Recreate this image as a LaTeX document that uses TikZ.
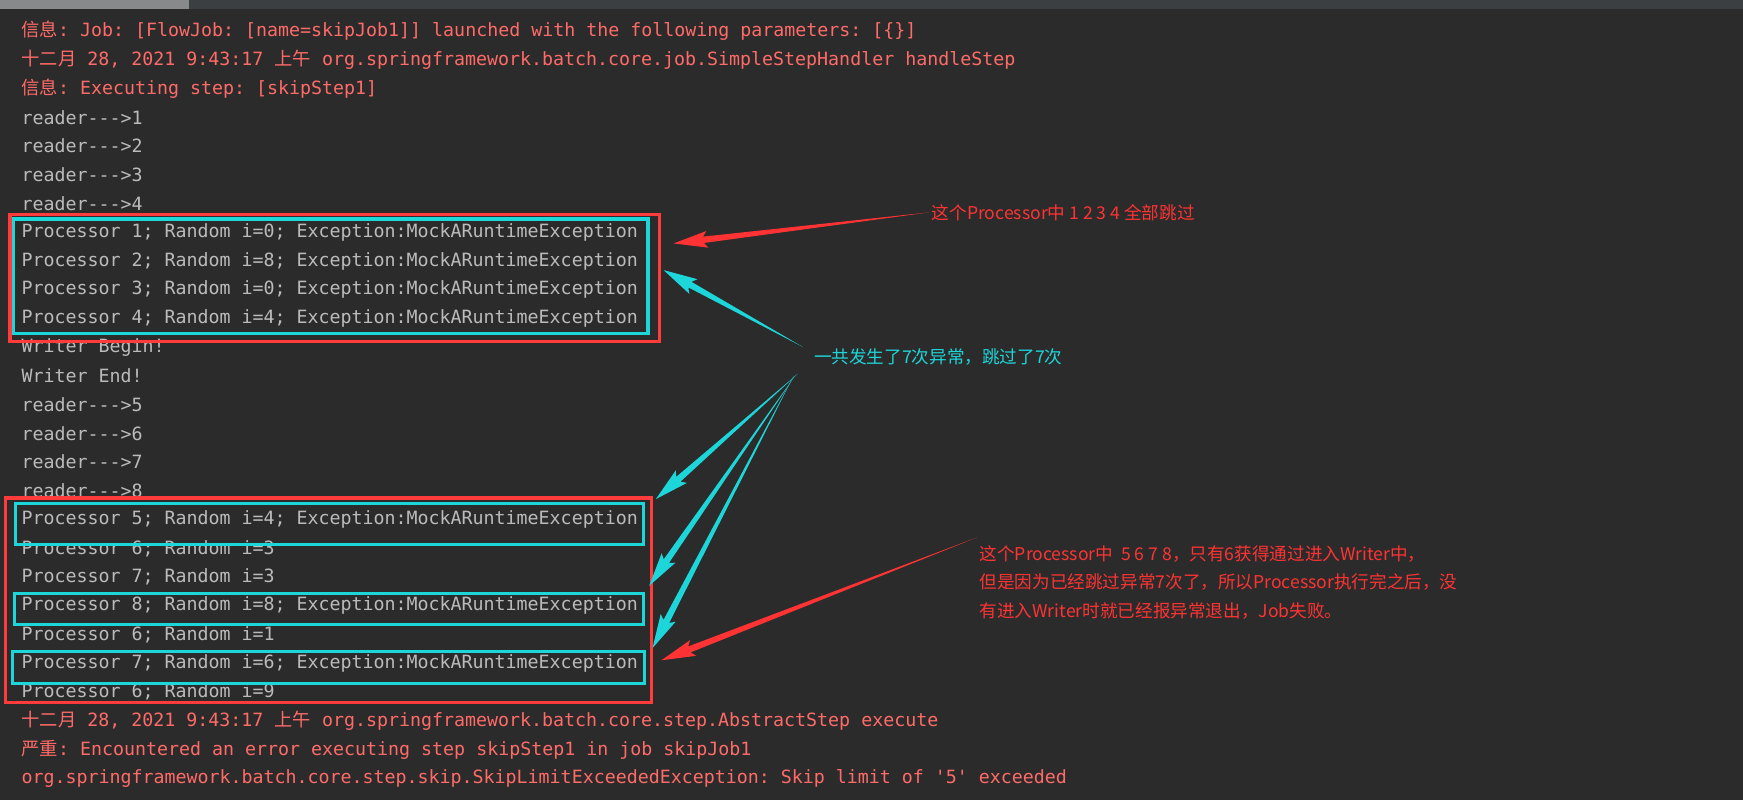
\documentclass[tikz,border=0pt]{standalone}
\usepackage{fontspec}
\setmonofont{DejaVu Sans Mono}
\newfontfamily\cjk{Noto Sans CJK SC}
\usetikzlibrary{calc}
\definecolor{bgc}{HTML}{2B2B2B}
\definecolor{barc}{HTML}{3C3F41}
\definecolor{logred}{HTML}{FF6B68}
\definecolor{loggray}{HTML}{BBBBBB}
\definecolor{boxred}{HTML}{FF3B3B}
\definecolor{boxcyan}{HTML}{1DD6D9}
\definecolor{annred}{HTML}{FF3333}
\tikzset{
  logline/.style={anchor=west,inner sep=0pt,font=\ttfamily\fontsize{9.14pt}{10pt}\selectfont},
  redline/.style={logline,text=logred},
  grayline/.style={logline,text=loggray},
  redbox/.style={draw=boxred,line width=1.6pt},
  cyanbox/.style={draw=boxcyan,line width=1.6pt},
  note/.style={anchor=west,inner sep=0pt,font=\cjk\fontsize{8.8pt}{14.2pt}\selectfont,align=left},
}
\newcommand\tarrow[3]{% colour, start, tip
  \fill[#1] (#2) -- ($(#3)!15pt!(#2)!1.6pt!90:(#3)$) -- ($(#3)!17pt!(#2)!4.2pt!90:(#3)$) -- (#3)
    -- ($(#3)!17pt!(#2)!4.2pt!-90:(#3)$) -- ($(#3)!15pt!(#2)!1.6pt!-90:(#3)$) -- cycle;}
\begin{document}
\begin{tikzpicture}[x=0.5558pt,y=-0.5558pt]
\useasboundingbox (0,0) rectangle (1568,720);
\fill[bgc] (0,0) rectangle (1568,720);
\fill[barc] (0,0) rectangle (1568,8);
\fill[loggray!60!barc] (0,0) rectangle (170,8);
\node[redline] (l0) at (19,28) {{\cjk 信息}: Job: [FlowJob: [name=skipJob1]] launched with the following parameters: [\{\}]};
\node[redline] (l1) at (19,53.85) {{\cjk 十二月} 28, 2021 9:43:17 {\cjk 上午} org.springframework.batch.core.job.SimpleStepHandler handleStep};
\node[redline] (l2) at (19,79.7) {{\cjk 信息}: Executing step: [skipStep1]};
\node[grayline] (l3) at (19,105.55) {reader--->1};
\node[grayline] (l4) at (19,131.4) {reader--->2};
\node[grayline] (l5) at (19,157.25) {reader--->3};
\node[grayline] (l6) at (19,183.1) {reader--->4};
\node[grayline] (l7) at (19,208.95) {Processor 1; Random i=0; Exception:MockARuntimeException};
\node[grayline] (l8) at (19,234.8) {Processor 2; Random i=8; Exception:MockARuntimeException};
\node[grayline] (l9) at (19,260.65) {Processor 3; Random i=0; Exception:MockARuntimeException};
\node[grayline] (l10) at (19,286.5) {Processor 4; Random i=4; Exception:MockARuntimeException};
\node[grayline] (l11) at (19,312.35) {Writer Begin!};
\node[grayline] (l12) at (19,338.2) {Writer End!};
\node[grayline] (l13) at (19,364.05) {reader--->5};
\node[grayline] (l14) at (19,389.9) {reader--->6};
\node[grayline] (l15) at (19,415.75) {reader--->7};
\node[grayline] (l16) at (19,441.6) {reader--->8};
\node[grayline] (l17) at (19,467.45) {Processor 5; Random i=4; Exception:MockARuntimeException};
\node[grayline] (l18) at (19,493.3) {Processor 6; Random i=3};
\node[grayline] (l19) at (19,519.15) {Processor 7; Random i=3};
\node[grayline] (l20) at (19,545) {Processor 8; Random i=8; Exception:MockARuntimeException};
\node[grayline] (l21) at (19,570.85) {Processor 6; Random i=1};
\node[grayline] (l22) at (19,596.7) {Processor 7; Random i=6; Exception:MockARuntimeException};
\node[grayline] (l23) at (19,622.55) {Processor 6; Random i=9};
\node[redline] (l24) at (19,648.4) {{\cjk 十二月} 28, 2021 9:43:17 {\cjk 上午} org.springframework.batch.core.step.AbstractStep execute};
\node[redline] (l25) at (19,674.25) {{\cjk 严重}: Encountered an error executing step skipStep1 in job skipJob1};
\node[redline] (l26) at (19,700.1) {org.springframework.batch.core.step.skip.SkipLimitExceededException: Skip limit of '5' exceeded};
% boxes
\draw[redbox] (9,193) rectangle (593,307);
\draw[cyanbox] (12,197) rectangle (583,300);
\draw[redbox] (5,448) rectangle (586,632);
\draw[cyanbox] (14,453) rectangle (579,490);
\draw[cyanbox] (13,534) rectangle (579,562);
\draw[cyanbox] (11,586) rectangle (580,615);
% annotations
\node[note,text=annred] (n1) at (838,191) {这个Processor中 1 2 3 4 全部跳过};
\node[note,text=boxcyan] (n2) at (732,321) {一共发生了7次异常，跳过了7次};
\node[note,text=annred] (n3) at (881,524) {这个Processor中\ \ 5 6 7 8，只有6获得通过进入Writer中，\\但是因为已经跳过异常7次了，所以Processor执行完之后，没\\有进入Writer时就已经报异常退出，Job失败。};
\coordinate (t1) at (606,219);
\coordinate (t2) at (597,243);
\coordinate (t3) at (590,449);
\coordinate (t4) at (584,527);
\coordinate (t5) at (587,583);
\coordinate (t6) at (595,594);
\coordinate (s1) at ([xshift=-1pt]n1.west);
\coordinate (s2) at (722,312);
\coordinate (s3) at (718,336);
\coordinate (s4) at (716,337);
\coordinate (s5) at (714,338);
\coordinate (s6) at ([xshift=-1pt,yshift=4pt]n3.north west);
\tarrow{annred}{s1}{t1}
\tarrow{boxcyan}{s2}{t2}
\tarrow{boxcyan}{s3}{t3}
\tarrow{boxcyan}{s4}{t4}
\tarrow{boxcyan}{s5}{t5}
\tarrow{annred}{s6}{t6}
\end{tikzpicture}
\end{document}
